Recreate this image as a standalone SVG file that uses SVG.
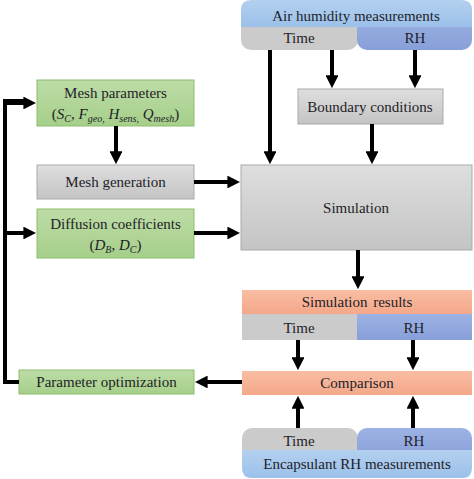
<svg xmlns="http://www.w3.org/2000/svg" width="474" height="479" viewBox="0 0 474 479" font-family="'Liberation Serif', 'DejaVu Serif', serif">
<defs>
<linearGradient id="gGray" x1="0" y1="0" x2="0" y2="1"><stop offset="0" stop-color="#dedede"/><stop offset="1" stop-color="#c4c4c4"/></linearGradient>
<linearGradient id="gGreen" x1="0" y1="0" x2="0" y2="1"><stop offset="0" stop-color="#bddca6"/><stop offset="1" stop-color="#a6cf8a"/></linearGradient>
<linearGradient id="gSalmon" x1="0" y1="0" x2="0" y2="1"><stop offset="0" stop-color="#f9bda3"/><stop offset="1" stop-color="#f4a889"/></linearGradient>
<linearGradient id="gLBlue" x1="0" y1="0" x2="0" y2="1"><stop offset="0" stop-color="#b3d0ef"/><stop offset="1" stop-color="#9cc0ea"/></linearGradient>
<linearGradient id="gDBlue" x1="0" y1="0" x2="0" y2="1"><stop offset="0" stop-color="#9db2e4"/><stop offset="1" stop-color="#879fd8"/></linearGradient>
<marker id="ah" viewBox="0 0 10 10" refX="0.5" refY="5" markerWidth="3.2" markerHeight="3.2" orient="auto"><path d="M0,0 L10,5 L0,10 z" fill="#000"/></marker>
</defs>
<style>
text{font-family:'Liberation Serif','DejaVu Serif',serif;font-size:15px;fill:#1e1e28;text-anchor:middle}
.gray{fill:url(#gGray);stroke:#aaaaaa;stroke-width:1}
.green{fill:url(#gGreen);stroke:#8dbd6e;stroke-width:1}
.salmon{fill:url(#gSalmon);stroke:none}
.lblue{fill:url(#gLBlue);stroke:none}
.dblue{fill:url(#gDBlue);stroke:none}
.tgray{fill:#cbcbcb;stroke:none}
.arr{stroke:#000;stroke-width:4;fill:none;marker-end:url(#ah)}
.line{stroke:#000;stroke-width:4;fill:none}
.sub{font-size:10px}
.it{font-style:italic}
</style>
<rect width="474" height="479" fill="#fff"/>

<g id="air-humidity">
<rect class="tgray" x="241" y="14" width="117" height="36" rx="10"/>
<rect class="dblue" x="357" y="14" width="115" height="36" rx="10"/>
<path class="lblue" d="M241,27 V10 Q241,0 251,0 H462 Q472,0 472,10 V27 Z"/>
<text x="356" y="21">Air humidity measurements</text>
<text x="299" y="43">Time</text>
<text x="415" y="43">RH</text>
</g>

<g id="boundary-conditions">
<rect class="gray" x="298" y="89" width="145" height="35"/>
<text x="370" y="112">Boundary conditions</text>
</g>

<g id="mesh-parameters">
<rect class="green" x="37" y="80" width="157" height="46"/>
<text x="115.5" y="98">Mesh parameters</text>
<text x="115.5" y="119">(<tspan class="it">S</tspan><tspan class="sub it" dy="3">C</tspan><tspan dy="-3">, </tspan><tspan class="it">F</tspan><tspan class="sub it" dy="3">geo</tspan><tspan class="sub">,</tspan><tspan dy="-3"> </tspan><tspan class="it">H</tspan><tspan class="sub it" dy="3">sens</tspan><tspan class="sub">,</tspan><tspan dy="-3"> </tspan><tspan class="it">Q</tspan><tspan class="sub it" dy="3">mesh</tspan><tspan dy="-3">)</tspan></text>
</g>

<g id="mesh-generation">
<rect class="gray" x="37" y="165" width="157" height="34"/>
<text x="115.5" y="187">Mesh generation</text>
</g>

<g id="diffusion-coefficients">
<rect class="green" x="37" y="209" width="157" height="49"/>
<text x="115.5" y="229">Diffusion coefficients</text>
<text x="115.5" y="250">(<tspan class="it">D</tspan><tspan class="sub it" dy="3">B</tspan><tspan dy="-3">, </tspan><tspan class="it">D</tspan><tspan class="sub it" dy="3">C</tspan><tspan dy="-3">)</tspan></text>
</g>

<g id="simulation">
<rect class="gray" x="241" y="165" width="231" height="85"/>
<text x="356" y="213">Simulation</text>
</g>

<g id="simulation-results">
<rect class="salmon" x="242" y="290" width="230" height="24"/>
<rect class="tgray" x="242" y="314" width="115" height="26"/>
<rect class="dblue" x="357" y="314" width="115" height="26"/>
<text x="357" y="307" word-spacing="2">Simulation results</text>
<text x="299" y="333">Time</text>
<text x="414" y="333">RH</text>
</g>

<g id="comparison">
<rect class="salmon" x="242" y="371" width="230" height="24"/>
<text x="357" y="388">Comparison</text>
</g>

<g id="parameter-optimization">
<rect class="green" x="19" y="370" width="175" height="24"/>
<text x="106.5" y="387">Parameter optimization</text>
</g>

<g id="encapsulant-rh">
<rect class="tgray" x="242" y="428" width="116" height="34" rx="10"/>
<rect class="dblue" x="357" y="428" width="115" height="34" rx="10"/>
<path class="lblue" d="M242,450 H472 V468 Q472,478 462,478 H252 Q242,478 242,468 Z"/>
<text x="299" y="446">Time</text>
<text x="414" y="446">RH</text>
<text x="357" y="469">Encapsulant RH measurements</text>
</g>

<g id="connectors">
<line class="arr" x1="270" y1="50" x2="270" y2="152"/>
<line class="arr" x1="332" y1="50" x2="332" y2="76"/>
<line class="arr" x1="415" y1="50" x2="415" y2="76"/>
<line class="arr" x1="372" y1="124" x2="372" y2="152"/>
<line class="arr" x1="116" y1="126" x2="116" y2="152"/>
<line class="arr" x1="194" y1="182" x2="228" y2="182"/>
<line class="arr" x1="194" y1="233" x2="228" y2="233"/>
<line class="arr" x1="358" y1="250" x2="358" y2="277"/>
<line class="arr" x1="298" y1="340" x2="298" y2="358"/>
<line class="arr" x1="413" y1="340" x2="413" y2="358"/>
<line class="arr" x1="298" y1="428" x2="298" y2="408"/>
<line class="arr" x1="413" y1="428" x2="413" y2="408"/>
<line class="arr" x1="242" y1="382" x2="207" y2="382"/>
<path class="line" d="M19,382 H5 V101 H24"/>
<line class="arr" x1="5" y1="103" x2="24" y2="103"/>
<line class="arr" x1="5" y1="233" x2="24" y2="233"/>
</g>
</svg>
